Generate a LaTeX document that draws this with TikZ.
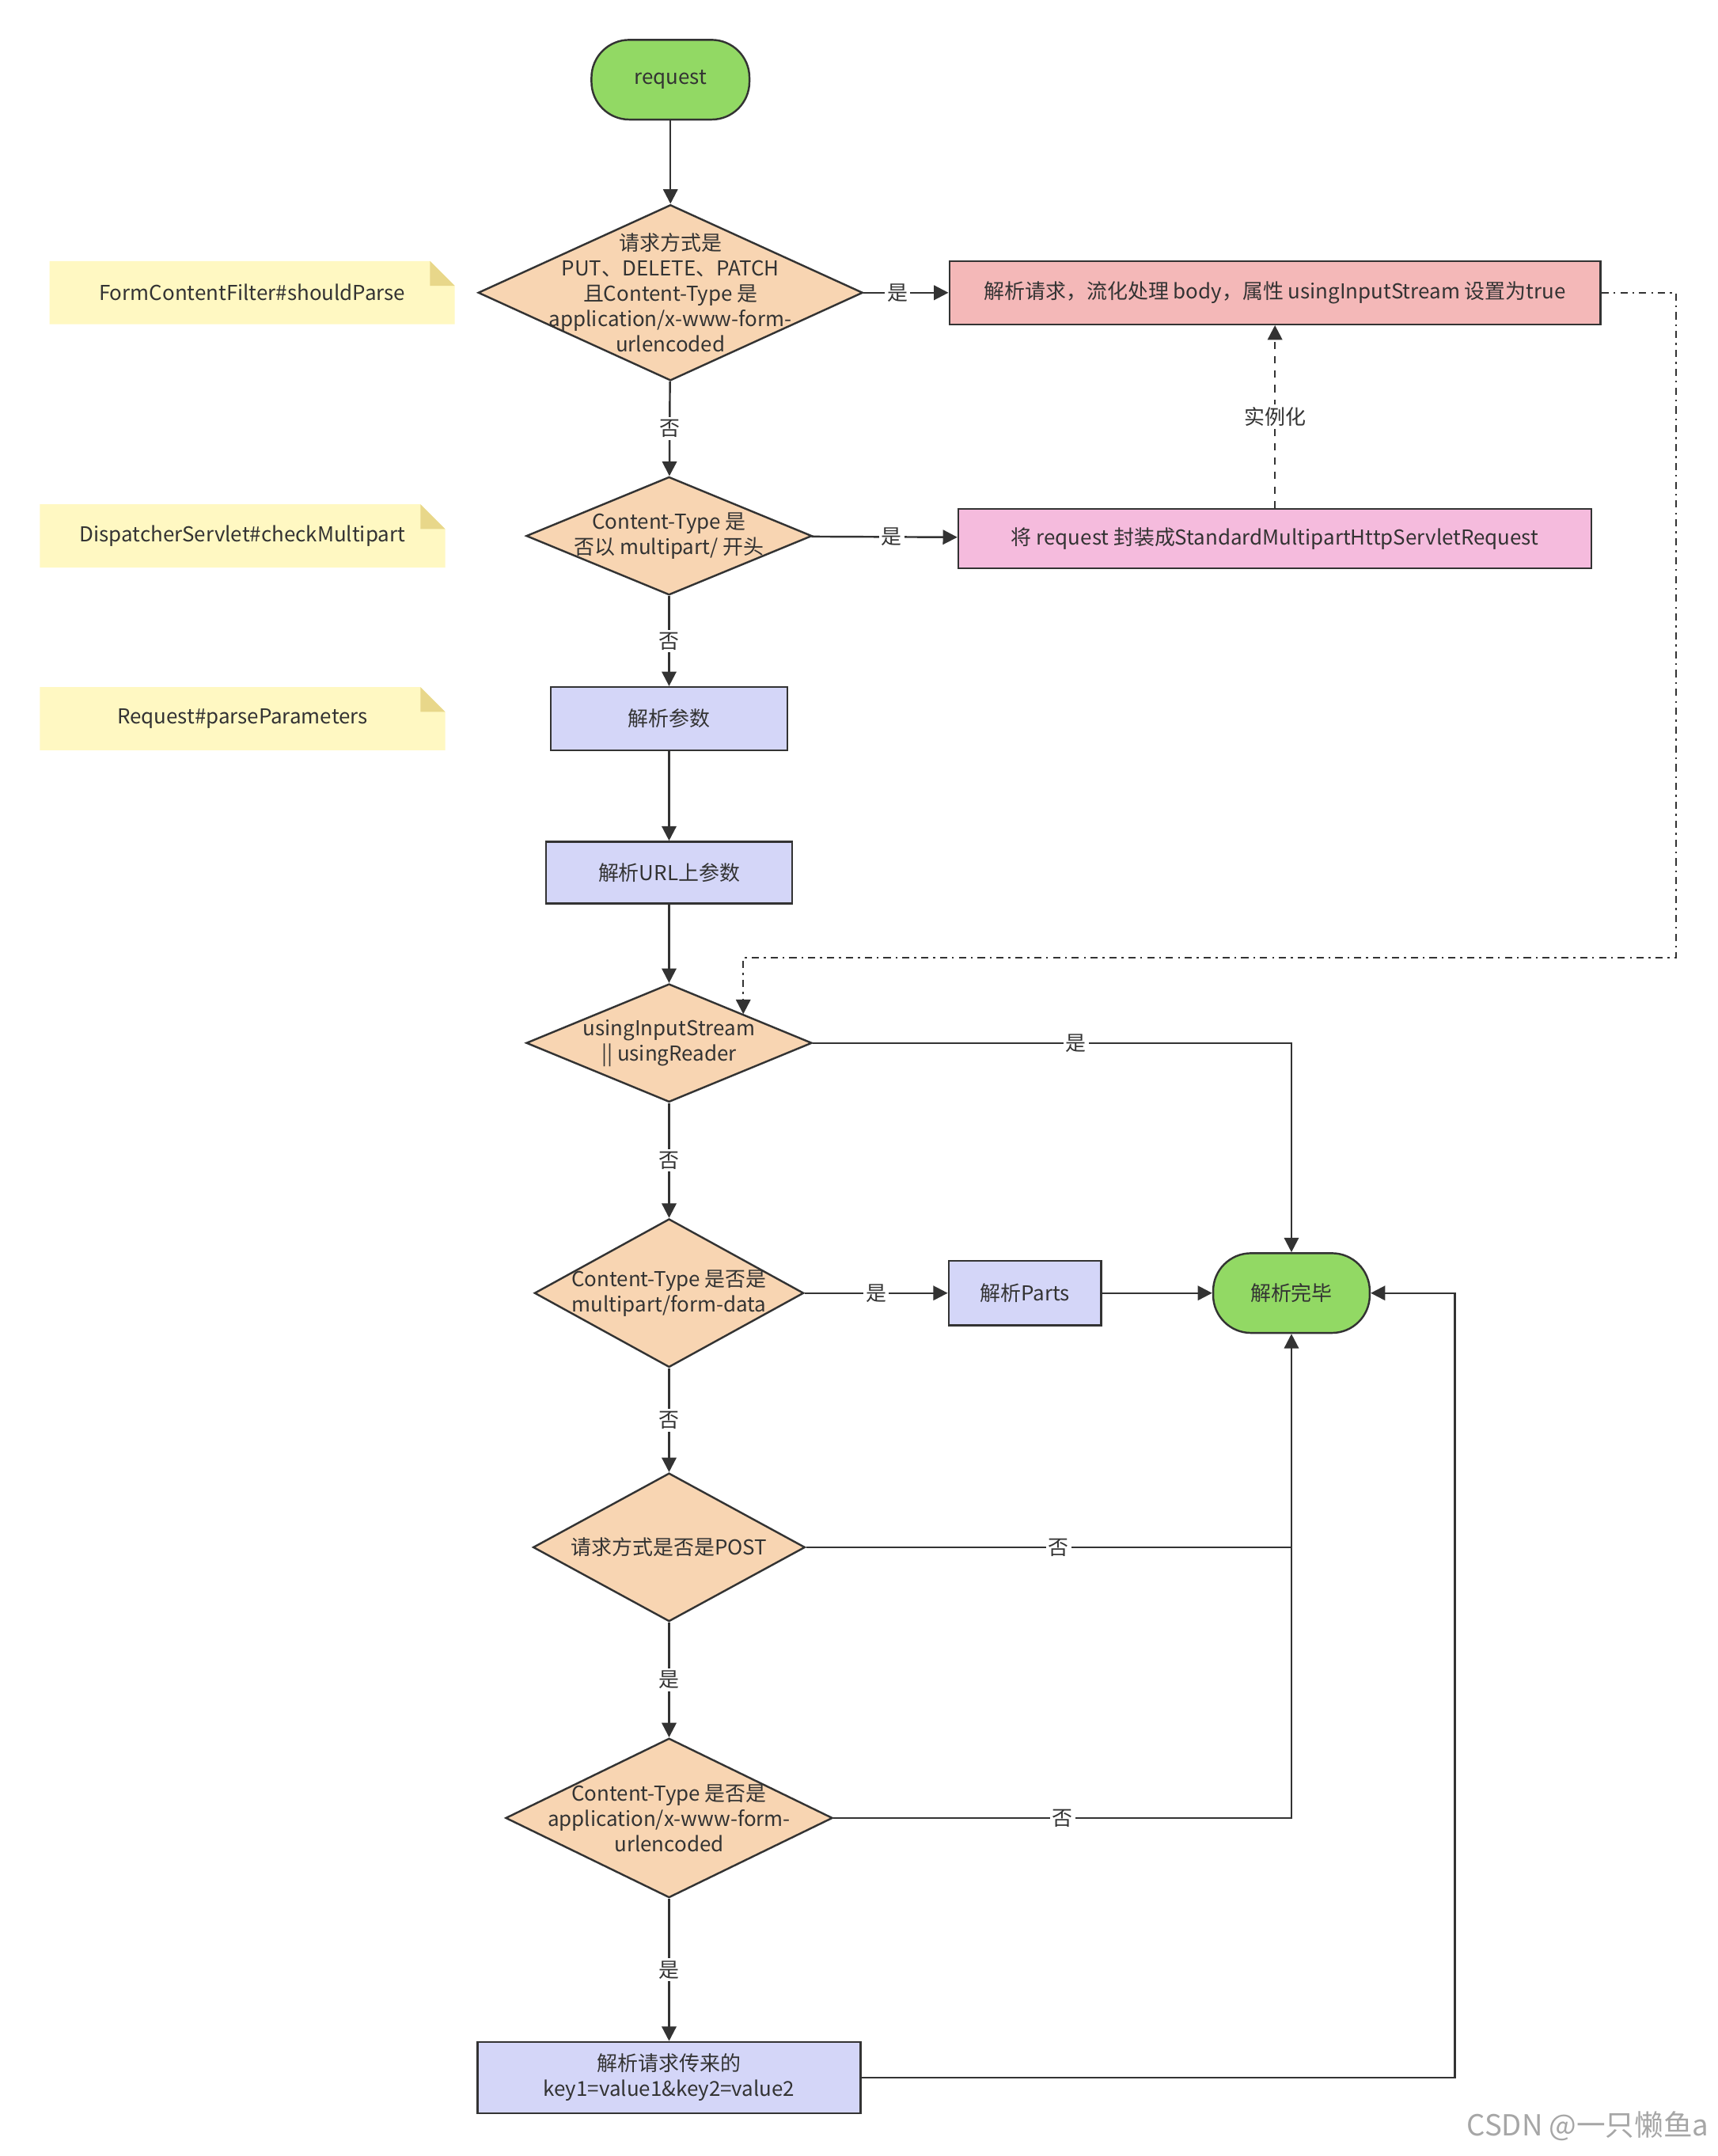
\documentclass[tikz,border=0pt]{standalone}
\usepackage{fontspec}
\setmainfont{Noto Sans CJK SC}
\usetikzlibrary{arrows.meta,shapes.geometric}
\definecolor{gr}{HTML}{92D964}
\definecolor{pe}{HTML}{F8D5B2}
\definecolor{rd}{HTML}{F4B8B8}
\definecolor{pk}{HTML}{F5BBDD}
\definecolor{lv}{HTML}{D4D6F8}
\definecolor{ye}{HTML}{FFF8C2}
\definecolor{fo}{HTML}{E8D78A}
\definecolor{ln}{HTML}{333333}
\tikzset{
  txt/.style={font=\fontsize{8.5}{10.5}\selectfont, text=ln, align=center},
  term/.style={txt, draw=ln, thick, fill=gr, rounded corners=0.55cm, minimum height=1.16cm},
  dec/.style={diamond, draw=ln, thick, fill=pe, inner sep=0pt},
  box/.style={txt, draw=ln, thick, minimum height=0.92cm},
  arr/.style={ln, thick, -{Triangle[length=6pt,width=6pt]}},
  lbl/.style={txt, fill=white, inner sep=1pt},
}
\newcommand{\notebox}[4]{% x1,y1,x2,text
  \fill[ye] (#1,#2) -- (#3-18,#2) -- (#3,#2+18) -- (#3,#2+46) -- (#1,#2+46) -- cycle;
  \fill[fo] (#3-18,#2) -- (#3,#2+18) -- (#3-18,#2+18) -- cycle;
  \node[txt] at ({(#1+#3)/2},#2+23) {#4};
}
\begin{document}
\begin{tikzpicture}[x=0.02cm,y=-0.02cm]
  \useasboundingbox (0,0) rectangle (1250,1569);
  % notes
  \notebox{36}{190}{331}{FormContentFilter\#shouldParse}
  \notebox{29}{367}{324}{DispatcherServlet\#checkMultipart}
  \notebox{29}{500}{324}{Request\#parseParameters}
  % terminals and boxes
  \node[term, minimum width=2.3cm] (req) at (488,58) {request};
  \node[term, minimum width=2.28cm] (done) at (940,941) {解析完毕};
  \node[box, fill=rd, minimum width=9.48cm] (stream) at (928,213) {解析请求，流化处理 body，属性 usingInputStream 设置为true};
  \node[box, fill=pk, minimum width=9.22cm, minimum height=0.86cm] (wrap) at (928,392) {将 request 封装成StandardMultipartHttpServletRequest};
  \node[box, fill=lv, minimum width=3.44cm] (param) at (487,523) {解析参数};
  \node[box, fill=lv, minimum width=3.58cm, minimum height=0.9cm] (url) at (487,635) {解析URL上参数};
  \node[box, fill=lv, minimum width=2.22cm, minimum height=0.94cm] (parts) at (746,941) {解析Parts};
  \node[box, fill=lv, minimum width=5.58cm, minimum height=1.04cm] (kv) at (487,1512) {解析请求传来的\\key1=value1\&key2=value2};
  % decisions
  \node[dec, minimum width=5.6cm, minimum height=2.56cm] (put) at (488,213) {};
  \node[txt] at (put) {请求方式是\\PUT、DELETE、PATCH\\且Content-Type 是\\application/x-www-form-\\urlencoded};
  \node[dec, minimum width=4.16cm, minimum height=1.72cm] (multi) at (487,390) {};
  \node[txt] at (multi) {Content-Type 是\\否以 multipart/ 开头};
  \node[dec, minimum width=4.16cm, minimum height=1.72cm] (using) at (487,759) {};
  \node[txt] at (using) {usingInputStream\\|| usingReader};
  \node[dec, minimum width=3.92cm, minimum height=2.16cm] (form) at (487,941) {};
  \node[txt] at (form) {Content-Type 是否是\\multipart/form-data};
  \node[dec, minimum width=3.96cm, minimum height=2.16cm] (post) at (487,1126) {};
  \node[txt] at (post) {请求方式是否是POST};
  \node[dec, minimum width=4.76cm, minimum height=2.32cm] (urlenc) at (487,1323) {};
  \node[txt] at (urlenc) {Content-Type 是否是\\application/x-www-form-\\urlencoded};
  % connectors
  \draw[arr] (req) -- (put);
  \draw[arr] (put) -- node[lbl, pos=0.4] {是} (stream);
  \draw[arr] (put) -- node[lbl] {否} (multi);
  \draw[arr] (multi) -- node[lbl, pos=0.55] {是} (wrap);
  \draw[arr, dashed] (wrap) -- node[lbl] {实例化} (stream);
  \draw[arr] (multi) -- node[lbl] {否} (param);
  \draw[arr] (param) -- (url);
  \draw[arr] (url) -- (using);
  \coordinate (ret) at (541,738);
  \draw[arr, dash dot] (stream.east) -- (1220,213) -- (1220,697) -- (541,697) -- (ret);
  \draw[arr] (using.east) -- node[lbl, pos=0.55] {是} (940,759) -- (done.north);
  \draw[arr] (using) -- node[lbl] {否} (form);
  \draw[arr] (form) -- node[lbl] {是} (parts);
  \draw[arr] (parts) -- (done);
  \draw[arr] (form) -- node[lbl] {否} (post);
  \draw[arr] (post.east) -- node[lbl, pos=0.52] {否} (940,1126) -- (done.south);
  \draw[arr] (post) -- node[lbl] {是} (urlenc);
  \draw[ln, thick] (urlenc.east) -- node[lbl, pos=0.5] {否} (940,1323) -- (940,1126);
  \draw[arr] (urlenc) -- node[lbl] {是} (kv);
  \draw[arr] (kv.east) -- (1059,1512) -- (1059,941) -- (done.east);
  % watermark
  \node[font=\fontsize{12}{14}\selectfont, text=black!35, anchor=east] (wm) at (1250,1547) {CSDN @一只懒鱼a};
\end{tikzpicture}
\end{document}
